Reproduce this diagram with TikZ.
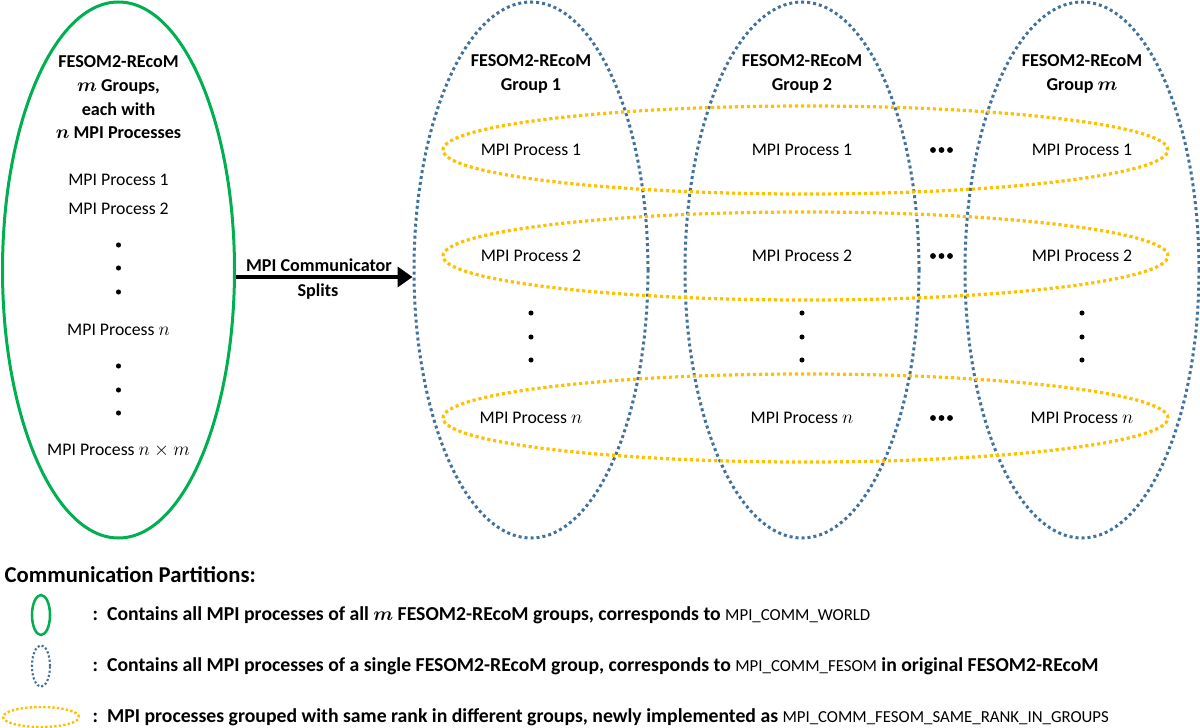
\documentclass[tikz,border=0pt]{standalone}
\usepackage{fontspec}
\setmainfont{Carlito}
\usetikzlibrary{shapes.geometric,arrows.meta}
\definecolor{wgreen}{HTML}{00B050}
\definecolor{gblue}{HTML}{41719C}
\definecolor{ryellow}{HTML}{FFC000}
\tikzset{
  world/.style={ellipse, draw=wgreen, line width=2.25pt, inner sep=0pt},
  grp/.style={ellipse, draw=gblue, line width=2.25pt, dash pattern=on 2.25pt off 2.25pt, inner sep=0pt},
  rank/.style={ellipse, draw=ryellow, line width=2.4pt, dash pattern=on 2.4pt off 2.1pt, inner sep=0pt},
  proc/.style={font=\fontsize{13.3}{16}\selectfont},
  head/.style={font=\fontsize{13.6}{17.8}\selectfont\bfseries, align=center},
  leg/.style={anchor=west, font=\fontsize{14.8}{17}\selectfont\bfseries},
}
\newcommand{\code}[1]{{\fontsize{12.6}{14}\selectfont\mdseries #1}}
\begin{document}
\begin{tikzpicture}[x=0.75pt, y=-0.75pt]
\useasboundingbox (0,0) rectangle (1200,728);

% all processes
\node[world, minimum width=174pt, minimum height=402pt] (w) at (118.5,270){};
\node[head] (wh) at (118.5,97.5){FESOM2-REcoM\\{\boldmath$m$} Groups,\\each with\\{\boldmath$n$} MPI Processes};
\node[proc] (wp1) at (118.5,180){MPI Process 1};
\node[proc] (wp2) at (118.5,209){MPI Process 2};
\node[proc] (wpn) at (118.5,330){MPI Process $n$};
\node[proc] (wpnm) at (118.5,451){MPI Process $n\times m$};
\foreach \y in {245,268,292,366,390,413}
  \fill (118.5,\y) circle (1.9pt);

% groups
\node[grp, minimum width=175.5pt, minimum height=402pt] (g1) at (531,270){};
\node[grp, minimum width=175.5pt, minimum height=402pt] (g2) at (802,270){};
\node[grp, minimum width=175.5pt, minimum height=402pt] (gm) at (1082,270){};
\node[head] (g1h) at (531,74){FESOM2-REcoM\\Group 1};
\node[head] (g2h) at (802,74){FESOM2-REcoM\\Group 2};
\node[head] (gmh) at (1082,74){FESOM2-REcoM\\Group {\boldmath$m$}};

% same rank
\node[rank, minimum width=543.75pt, minimum height=66pt] (r1) at (805.5,150){};
\node[rank, minimum width=543.75pt, minimum height=66pt] (r2) at (805.5,256){};
\node[rank, minimum width=543.75pt, minimum height=66pt] (rn) at (805.5,418){};

\foreach \x in {531,802,1082}{
  \node[proc] at (\x,150){MPI Process 1};
  \node[proc] at (\x,256){MPI Process 2};
  \node[proc] at (\x,418){MPI Process $n$};
  \foreach \y in {313,337,360}
    \fill (\x,\y) circle (1.9pt);
}
\foreach \y in {150,256,418}
  \foreach \x in {933,941.5,950}
    \fill (\x,\y) circle (2.2pt);

% split
\draw[line width=3pt, -{Triangle[length=11.25pt, width=15pt]}] ([yshift=-5.25pt]w.east) -- ([yshift=-5.25pt]g1.west);
\node[head] (sp1) at (319,265){MPI Communicator};
\node[head] (sp2) at (318,292){Splits};

% legend
\node[anchor=west, font=\fontsize{17}{20}\selectfont\bfseries] (lt) at (0,575){Communication Partitions:};
\node[world, line width=1.9pt, minimum width=13.5pt, minimum height=30pt] (lw) at (41,615){};
\node[grp, line width=1.6pt, dash pattern=on 1.6pt off 1.6pt, minimum width=13.5pt, minimum height=31pt] (lg) at (41,666){};
\node[rank, line width=1.8pt, dash pattern=on 1.8pt off 1.6pt, minimum width=57pt, minimum height=15pt] (lr) at (41,717){};
\node[leg] (l1) at (88,615){:\ \ Contains all MPI processes of all {\boldmath$m$} FESOM2-REcoM groups, corresponds to \code{MPI\_COMM\_WORLD}};
\node[leg] (l2) at (88,666){:\ \ Contains all MPI processes of a single FESOM2-REcoM group, corresponds to \code{MPI\_COMM\_FESOM} in original FESOM2-REcoM};
\node[leg] (l3) at (88,717){:\ \ MPI processes grouped with same rank in different groups, newly implemented as \code{MPI\_COMM\_FESOM\_SAME\_RANK\_IN\_GROUPS}};
\end{tikzpicture}
\end{document}
